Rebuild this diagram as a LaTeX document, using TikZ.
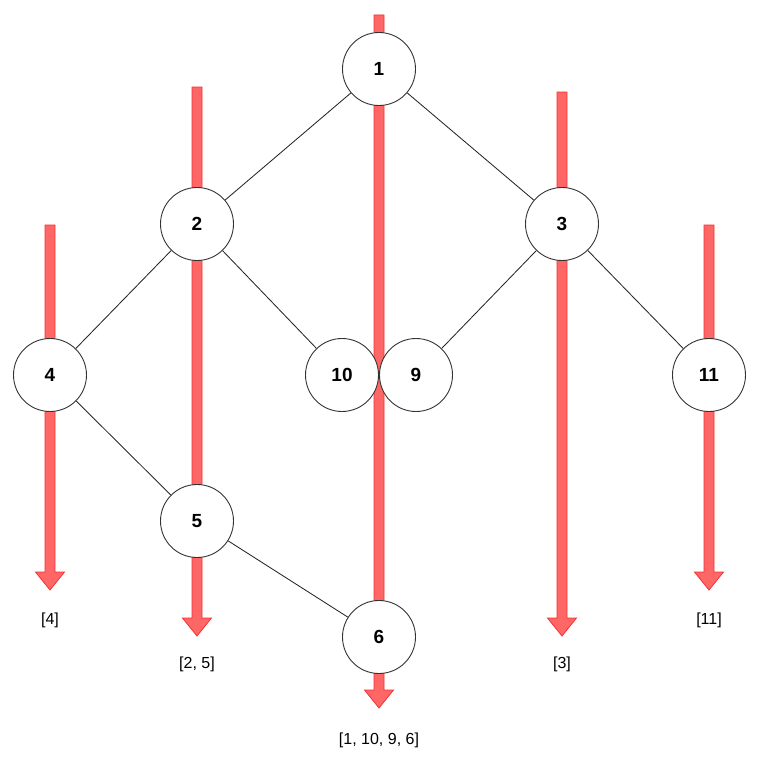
\documentclass[tikz,border=0pt]{standalone}
\usepackage{fontspec}
\setmainfont{Liberation Sans}
\usetikzlibrary{calc}

\definecolor{listfill}{RGB}{255,102,102}
\definecolor{listline}{RGB}{245,50,50}

\tikzset{
	vertex/.style={circle, draw=black!80, fill=white, line width=0.9pt, minimum size=73pt, inner sep=0pt, font=\fontsize{19}{21}\selectfont\bfseries},
	branch/.style={draw=black!85, line width=0.85pt},
	listarrow/.style={fill=listfill, draw=listline, line width=0.8pt},
	result/.style={font=\fontsize{16}{18}\selectfont}
}

\newcommand{\redarrow}[2]{%
	\draw[listarrow] let \p1=(#1), \p2=(#2) in
		(\x1-5pt,\y1) -- (\x1+5pt,\y1) -- (\x1+5pt,\y2+18pt) -- (\x1+14.5pt,\y2+18pt)
		-- (\x2,\y2) -- (\x1-14.5pt,\y2+18pt) -- (\x1-5pt,\y2+18pt) -- cycle;}

\begin{document}
\begin{tikzpicture}[x=1pt, y=-1pt]

	\useasboundingbox (0,0) rectangle (759,768);

	% the paths, behind the tree
	\coordinate (top1) at (379,15);  \coordinate (tip1) at (379,708);
	\coordinate (top2) at (197,87);  \coordinate (tip2) at (197,636);
	\coordinate (top3) at (562,92);  \coordinate (tip3) at (562,636);
	\coordinate (top4) at (50,225);  \coordinate (tip4) at (50,590);
	\coordinate (top5) at (709,225); \coordinate (tip5) at (709,590);

	\redarrow{top1}{tip1}
	\redarrow{top2}{tip2}
	\redarrow{top3}{tip3}
	\redarrow{top4}{tip4}
	\redarrow{top5}{tip5}

	% the tree
	\node[vertex] (n1) at (379,69) {1};
	\node[vertex] (n2) at (197,224) {2};
	\node[vertex] (n3) at (562,224) {3};
	\node[vertex] (n4) at (50,375) {4};
	\node[vertex] (n10) at (342,375) {10};
	\node[vertex] (n9) at (416,375) {9};
	\node[vertex] (n11) at (709,375) {11};
	\node[vertex] (n5) at (197,521) {5};
	\node[vertex] (n6) at (379,637) {6};

	\draw[branch] (n1) -- (n2);
	\draw[branch] (n1) -- (n3);
	\draw[branch] (n2) -- (n4);
	\draw[branch] (n2) -- (n10);
	\draw[branch] (n3) -- (n9);
	\draw[branch] (n3) -- (n11);
	\draw[branch] (n4) -- (n5);
	\draw[branch] (n5) -- (n6);

	% the lists
	\node[result] (r4) at (50,620) {[4]};
	\node[result] (r2) at (197,664) {[2, 5]};
	\node[result] (r1) at (379,740) {[1, 10, 9, 6]};
	\node[result] (r3) at (562,664) {[3]};
	\node[result] (r11) at (709,620) {[11]};

\end{tikzpicture}
\end{document}
